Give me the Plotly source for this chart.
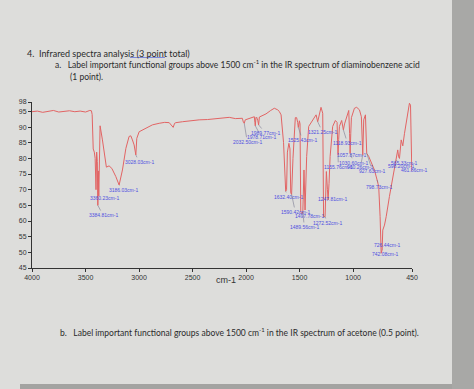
import numpy as np
import plotly.graph_objects as go

# ---------------- data ----------------
wavenumber = [4000, 3950, 3900, 3850, 3800, 3750, 3700, 3650, 3600, 3550, 3500, 3460,
              3445, 3438, 3428, 3418, 3410, 3402, 3396, 3390, 3385, 3380, 3376, 3370, 3364,
              3342, 3317, 3305, 3280, 3254, 3217, 3186, 3155, 3123, 3093, 3077, 3062, 3046,
              3030, 3021, 2999, 2936, 2875, 2812, 2760, 2718, 2695, 2681, 2668, 2656, 2594,
              2520, 2438, 2360, 2282, 2220, 2157, 2100, 2064, 2035, 2025, 2017, 2008, 1986,
              1950, 1923, 1918, 1914, 1908, 1902, 1890, 1883, 1876, 1870, 1814, 1770, 1736,
              1705, 1690, 1673, 1650, 1630, 1622, 1614, 1600, 1590, 1583, 1575, 1562, 1540,
              1528, 1518, 1512, 1502, 1496, 1489, 1478, 1470, 1459, 1449, 1440, 1434, 1415,
              1378, 1346, 1331, 1315, 1300, 1284, 1276, 1262, 1250, 1240, 1234, 1225, 1215,
              1191, 1166, 1150, 1141, 1135, 1128, 1107, 1091, 1080, 1066, 1041, 1033, 1028,
              1022, 1016, 988, 967, 941, 923, 910, 901, 885, 873, 854, 832, 801, 776, 761,
              748, 738, 729, 723, 707, 691, 661, 630, 598, 583, 575, 567, 551, 536, 520,
              505, 489, 474, 464, 458, 452, 450]
transmittance = [94.9, 95.1, 94.7, 95.0, 95.3, 94.8, 95.0, 95.2, 94.9, 95.1, 94.8, 95.3,
                 95.2, 94.0, 83.0, 82.0, 80.0, 70.0, 82.0, 79.0, 65.0, 76.0, 68.0, 84.0, 90.4,
                 85.9, 79.5, 77.2, 77.6, 76.8, 74.2, 71.5, 76.3, 83.2, 87.0, 87.2, 85.9, 84.3,
                 81.1, 86.4, 88.5, 89.6, 90.7, 91.2, 91.5, 91.4, 90.5, 89.9, 91.2, 91.4, 91.7,
                 92.0, 92.3, 92.4, 92.6, 92.9, 93.1, 92.7, 92.8, 92.8, 91.5, 91.2, 92.3, 92.5,
                 93.0, 93.3, 91.5, 90.4, 93.0, 93.2, 92.0, 90.7, 93.2, 93.3, 94.2, 95.3, 96.0,
                 95.5, 95.0, 93.9, 85.0, 69.5, 70.0, 82.0, 84.8, 83.0, 69.0, 68.5, 80.0, 93.0,
                 93.0, 91.5, 89.9, 92.0, 91.0, 63.0, 62.3, 63.0, 76.3, 63.5, 72.0, 80.6, 90.2,
                 92.3, 93.9, 91.7, 94.4, 96.3, 94.4, 61.4, 61.4, 75.8, 70.0, 66.7, 72.0, 80.6,
                 90.2, 92.1, 91.5, 81.1, 86.0, 90.2, 92.1, 89.1, 91.0, 92.3, 95.3, 88.0, 81.6,
                 88.0, 93.0, 96.0, 96.3, 95.5, 93.3, 81.1, 92.3, 93.9, 81.6, 80.6, 79.0, 76.3,
                 73.1, 71.0, 61.4, 49.7, 50.8, 57.1, 58.7, 61.4, 67.8, 74.2, 79.5, 82.7, 80.5,
                 80.0, 85.9, 84.0, 88.0, 91.2, 95.5, 97.6, 97.0, 77.4, 76.5, 76.0]

x_ticks = [4000, 3500, 3000, 2500, 2000, 1500, 1000, 450]
y_ticks = [45, 50, 55, 60, 65, 70, 75, 80, 85, 90, 95, 98]

peak_labels = ["3384.81cm-1", "3360.23cm-1", "3186.03cm-1", "3028.03cm-1",
               "2032.50cm-1", "1978.71cm-1", "1989.77cm-1", "1525.43cm-1",
               "1321.25cm-1", "1118.93cm-1", "1057.87cm-1", "1030.60cm-1",
               "1155.76cm-1", "960.26cm-1", "927.63cm-1", "798.73cm-1",
               "1632.40cm-1", "1247.81cm-1", "1590.42cm-1", "1497.78cm-1",
               "1272.52cm-1", "1489.56cm-1", "565.33cm-1", "598.20cm-1",
               "461.86cm-1", "726.44cm-1", "742.08cm-1"]
peak_wn = [3385, 3376, 3186, 3030, 2017, 1914, 1883, 1512, 1331, 1091, 1028, 1028,
           1141, 910, 873, 776, 1630, 1234, 1575, 1478, 1262, 1470, 567, 598, 458, 729, 738]

# label text positions (layout, in data units)
label_x = [3336, 3327, 3149, 3000, 1989, 1858, 1820, 1474, 1287, 1053, 1016, 993,
           1138, 932, 820, 754, 1605, 1194, 1540, 1409, 1241, 1456, 520, 548, 427, 679, 698]
label_y = [61.9, 67.4, 69.9, 78.9, 85.3, 86.9, 88.1, 85.9, 88.5, 84.9, 81.1, 78.6,
           77.3, 77.3, 76.0, 70.9, 67.7, 67.0, 62.9, 61.6, 59.4, 58.1, 78.5, 77.6, 76.3, 52.3, 49.5]

# ---------------- layout geometry ----------------
W, H = 474, 389
ML, MR, MT, MB = 32, 62, 102, 121
PW, PH = W - ML - MR, H - MT - MB


def px(x):
    return (x - ML) / PW


def py(y):
    return (H - MB - y) / PH


fig = go.Figure()
fig.add_trace(go.Scatter(x=wavenumber, y=transmittance, mode="lines",
                         line=dict(color="#e26464", width=1), hoverinfo="skip",
                         showlegend=False))

wn_asc = np.array(wavenumber[::-1], dtype=float)
t_asc = np.array(transmittance[::-1], dtype=float)
peak_T = np.interp(peak_wn, wn_asc, t_asc)

annotations = []
for txt, xw, yt, lx, ly in zip(peak_labels, peak_wn, peak_T, label_x, label_y):
    annotations.append(dict(x=xw, y=float(yt), xref="x", yref="y", text=txt,
                            ax=lx, ay=ly, axref="x", ayref="y", showarrow=True,
                            arrowhead=0, arrowwidth=0.6, arrowcolor="#7a7a90",
                            standoff=0, startstandoff=0,
                            font=dict(family="Liberation Sans", size=5, color="#4f4fe0")))

questions = [
    (25, 53, "4.&nbsp;&nbsp;Infrared spectra analysis (3 point total)", 9),
    (53, 64, "a.&nbsp;&nbsp;&nbsp;Label important functional groups above 1500 cm<sup>-1</sup> in the IR spectrum of diaminobenzene acid", 8.5),
    (68, 77, "(1 point).", 8.5),
    (58, 332, "b.&nbsp;&nbsp;&nbsp;Label important functional groups above 1500 cm<sup>-1</sup> in the IR spectrum of acetone (0.5 point).", 8.5),
]
for x0, y0, t, fs in questions:
    annotations.append(dict(x=px(x0), y=py(y0), xref="paper", yref="paper", text=t,
                            showarrow=False, xanchor="left", yanchor="middle",
                            font=dict(family="Lato", size=fs, color="#2b2b2b")))

annotations.append(dict(x=px(226), y=py(280), xref="paper", yref="paper", text="cm-1",
                        showarrow=False, xanchor="center", yanchor="middle",
                        font=dict(family="Liberation Sans", size=9, color="#333")))

shapes = [
    dict(type="rect", xref="paper", yref="paper", x0=px(452), x1=px(474), y0=py(389), y1=py(0),
         fillcolor="#a8a8a6", line=dict(width=0), layer="above"),
    dict(type="rect", xref="paper", yref="paper", x0=px(20), x1=px(452), y0=py(389), y1=py(384),
         fillcolor="#a3a3a1", line=dict(width=0), layer="above"),
    dict(type="line", xref="paper", yref="paper", x0=px(130), x1=px(165), y0=py(57.5), y1=py(57.5),
         line=dict(color="#7d88d8", width=1), layer="above"),
]

fig.update_layout(
    width=W, height=H,
    margin=dict(l=ML, r=MR, t=MT, b=MB),
    paper_bgcolor="#dddddb", plot_bgcolor="rgba(0,0,0,0)",
    showlegend=False,
    annotations=annotations,
    shapes=shapes,
    xaxis=dict(range=[4000, 450], tickvals=x_ticks, ticktext=[str(v) for v in x_ticks],
               showline=True, linecolor="#333", linewidth=1, ticks="outside",
               ticklen=3, tickcolor="#333", showgrid=False, zeroline=False,
               tickfont=dict(family="Liberation Sans", size=7, color="#333")),
    yaxis=dict(range=[45, 98], tickvals=y_ticks, ticktext=[str(v) for v in y_ticks],
               showline=True, linecolor="#333", linewidth=1, ticks="outside",
               ticklen=3, tickcolor="#333", showgrid=False, zeroline=False,
               tickfont=dict(family="Liberation Sans", size=7, color="#333")),
)

fig.write_html("out.html", config={"displayModeBar": False},
               post_script="document.body.style.margin='0';document.body.style.overflow='hidden';document.body.style.background='#dddddb';")
